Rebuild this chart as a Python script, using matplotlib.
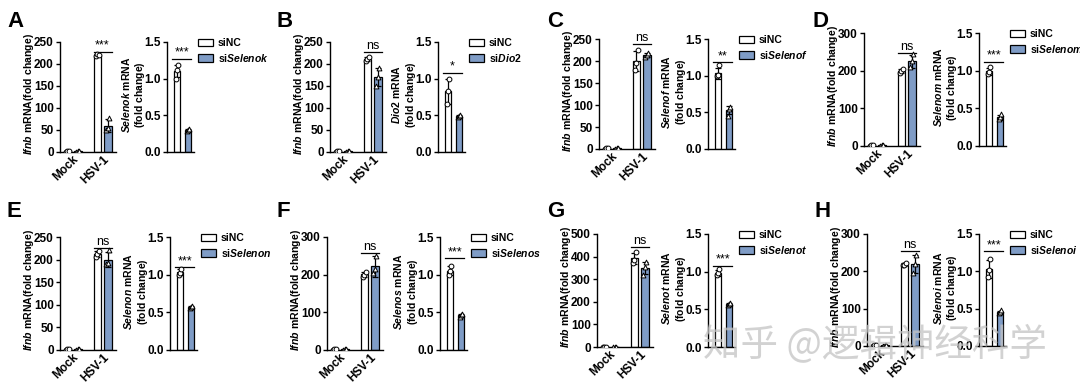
import numpy as np
import matplotlib
matplotlib.use("Agg")
import matplotlib.pyplot as plt
from matplotlib.patches import Patch

plt.rcParams['font.family'] = ['Liberation Sans', 'DejaVu Sans']
plt.rcParams['font.weight'] = 'bold'
plt.rcParams['mathtext.fontset'] = 'custom'
plt.rcParams['mathtext.it'] = 'Liberation Sans:italic:bold'
plt.rcParams['mathtext.rm'] = 'Liberation Sans:bold'
plt.rcParams['mathtext.bf'] = 'Liberation Sans:bold'
plt.rcParams['axes.linewidth'] = 1.0

# ---- data ----
panel_labels = ['A', 'B', 'C', 'D', 'E', 'F', 'G', 'H']
genes = ['Selenok', 'Dio2', 'Selenof', 'Selenom', 'Selenon', 'Selenos', 'Selenot', 'Selenoi']
groups = ['Mock', 'HSV-1']

ifnb_ymax = [250, 250, 250, 300, 250, 300, 500, 300]
ifnb_step = [50, 50, 50, 100, 50, 100, 100, 100]

# Ifnb, Mock (siNC / siKD)
mock_nc_mean = [1.5, 1.5, 1.5, 1.5, 1.5, 1.5, 1.5, 1.5]
mock_kd_mean = [1.5, 1.5, 1.5, 1.5, 1.5, 1.5, 1.5, 1.5]
mock_nc_pts = [[1, 1.5, 2]] * 8
mock_kd_pts = [[1, 1.5, 2]] * 8

# Ifnb, HSV-1
hsv_nc_mean = [220, 211, 200, 200, 212, 201, 392, 218]
hsv_nc_sd = [2, 4, 22, 5, 6, 6, 25, 3]
hsv_nc_pts = [[218, 222, 221], [207, 212, 215], [180, 195, 225], [195, 200, 205],
              [205, 212, 218], [195, 200, 208], [370, 385, 420], [216, 218, 222]]
hsv_kd_mean = [60, 170, 213, 225, 200, 222, 350, 220]
hsv_kd_sd = [14, 20, 5, 17, 17, 28, 28, 25]
hsv_kd_pts = [[50, 55, 78], [150, 170, 192], [208, 213, 218], [210, 225, 245],
              [190, 192, 222], [205, 215, 250], [320, 355, 375], [195, 220, 245]]
ifnb_sig = ['***', 'ns', 'ns', 'ns', 'ns', 'ns', 'ns', 'ns']
ifnb_sig_y = [228, 227, 238, 247, 225, 257, 442, 254]

# knockdown efficiency
kd_nc_mean = [1.1, 0.83, 1.03, 0.99, 1.03, 1.05, 0.98, 1.03]
kd_nc_sd = [0.08, 0.17, 0.08, 0.05, 0.04, 0.06, 0.04, 0.12]
kd_nc_pts = [[1.0, 1.12, 1.18], [0.65, 0.83, 1.0], [1.0, 1.01, 1.14], [0.95, 0.98, 1.05],
             [1.0, 1.02, 1.08], [1.0, 1.05, 1.12], [0.95, 0.98, 1.04], [0.93, 1.02, 1.16]]
kd_kd_mean = [0.3, 0.49, 0.53, 0.38, 0.57, 0.46, 0.57, 0.45]
kd_kd_sd = [0.01, 0.01, 0.05, 0.03, 0.015, 0.02, 0.01, 0.02]
kd_kd_pts = [[0.29, 0.3, 0.31], [0.48, 0.49, 0.5], [0.45, 0.55, 0.57], [0.36, 0.38, 0.42],
             [0.56, 0.57, 0.59], [0.44, 0.47, 0.48], [0.56, 0.57, 0.58], [0.44, 0.46, 0.48]]
kd_sig = ['***', '*', '**', '***', '***', '***', '***', '***']
kd_sig_y = [1.27, 1.08, 1.18, 1.12, 1.1, 1.22, 1.08, 1.27]

# ---- layout (pixels) ----
W, H = 1080, 387
left_x = [60, 330, 599, 864, 60, 327, 597, 867]
right_x = [167, 438, 708, 979, 170, 440, 708, 979]
top_y = [42, 42, 39, 33, 237, 237, 234, 234]
bot_y = [152, 152, 149, 146, 350, 350, 347, 346]
label_xy = [(7, 27), (277, 27), (547, 27), (813, 27), (7, 217), (277, 217), (547, 217), (815, 217)]

NC_COLOR = 'white'
KD_COLOR = '#7f9cc6'
jit = np.array([-1, 0, 1])


def bar_with_points(ax, x, mean, sd, pts, color, marker, width, jw):
    ax.bar(x, mean, width=width, color=color, edgecolor='black', linewidth=0.9, zorder=2)
    ax.errorbar(x, mean, yerr=sd, fmt='none', ecolor='black', elinewidth=0.9,
                capsize=2, capthick=0.9, zorder=3)
    ax.scatter(x + jit * jw, pts, s=12, facecolor='white', edgecolor='black',
               linewidth=0.7, marker=marker, zorder=4)


def style(ax):
    for s in ['top', 'right']:
        ax.spines[s].set_visible(False)
    ax.tick_params(axis='y', labelsize=8.5, length=3, width=1, pad=1.5)
    ax.tick_params(axis='x', labelsize=8.5, length=0, width=1, pad=1)


fig = plt.figure(figsize=(W / 100, H / 100), dpi=100)

for i in range(8):
    h = bot_y[i] - top_y[i]
    w1 = 56
    ax1 = fig.add_axes([left_x[i] / W, 1 - bot_y[i] / H, w1 / W, h / H])
    bw = 0.26
    bar_with_points(ax1, 0 - 0.17, mock_nc_mean[i], 0.4, mock_nc_pts[i], NC_COLOR, 'o', bw, 0.05)
    bar_with_points(ax1, 0 + 0.17, mock_kd_mean[i], 0.4, mock_kd_pts[i], KD_COLOR, '^', bw, 0.05)
    bar_with_points(ax1, 1 - 0.17, hsv_nc_mean[i], hsv_nc_sd[i], hsv_nc_pts[i], NC_COLOR, 'o', bw, 0.05)
    bar_with_points(ax1, 1 + 0.17, hsv_kd_mean[i], hsv_kd_sd[i], hsv_kd_pts[i], KD_COLOR, '^', bw, 0.05)
    ax1.set_xlim(-0.42, 1.45)
    ax1.set_ylim(0, ifnb_ymax[i])
    ax1.set_yticks(np.arange(0, ifnb_ymax[i] + 1, ifnb_step[i]))
    ax1.set_xticks([0, 1])
    ax1.set_xticklabels(groups, rotation=45, ha='right', rotation_mode='anchor')
    ax1.set_ylabel(r'$\it{Ifnb}\bf{\ mRNA(fold\ change)}$', fontsize=7.6)
    ax1.yaxis.set_label_coords(-24 / w1, 0.5 + 3 / h)
    ax1.plot([0.7, 1.3], [ifnb_sig_y[i]] * 2, color='black', lw=0.9, clip_on=False)
    ax1.text(1.0, ifnb_sig_y[i], ifnb_sig[i], ha='center', va='bottom', fontsize=9,
             fontweight='normal')
    style(ax1)

    w2 = 27
    ax2 = fig.add_axes([right_x[i] / W, 1 - bot_y[i] / H, w2 / W, h / H])
    bar_with_points(ax2, 0, kd_nc_mean[i], kd_nc_sd[i], kd_nc_pts[i], NC_COLOR, 'o', 0.6, 0.12)
    bar_with_points(ax2, 1, kd_kd_mean[i], kd_kd_sd[i], kd_kd_pts[i], KD_COLOR, '^', 0.6, 0.12)
    ax2.set_xlim(-0.9, 1.55)
    ax2.set_ylim(0, 1.5)
    ax2.set_yticks([0, 0.5, 1.0, 1.5])
    ax2.set_yticklabels(['0.0', '0.5', '1.0', '1.5'])
    ax2.set_xticks([])
    ax2.set_ylabel('$\\it{' + genes[i] + '}\\bf{\\ mRNA}$\n$\\bf{(fold\\ change)}$',
                   fontsize=7.5, linespacing=1.15)
    ax2.yaxis.set_label_coords(-20 / w2, 0.5 + 2 / h)
    ax2.plot([-0.45, 1.3], [kd_sig_y[i]] * 2, color='black', lw=0.9, clip_on=False)
    ax2.text(0.42, kd_sig_y[i], kd_sig[i], ha='center', va='bottom', fontsize=9,
             fontweight='normal')
    style(ax2)

    handles = [Patch(facecolor=NC_COLOR, edgecolor='black', linewidth=0.9),
               Patch(facecolor=KD_COLOR, edgecolor='black', linewidth=0.9)]
    fig.legend(handles, ['siNC', '$\\bf{si}\\it{' + genes[i] + '}$'],
               loc='upper left',
               bbox_to_anchor=((right_x[i] + 29) / W, 1 - (top_y[i] - 6) / H),
               frameon=False, fontsize=7.5, handlelength=1.4, handleheight=0.75,
               handletextpad=0.5, labelspacing=0.35, borderaxespad=0, borderpad=0.2)

    fig.text(label_xy[i][0] / W, 1 - label_xy[i][1] / H, panel_labels[i],
             fontsize=16, fontweight='bold', va='baseline')

fig.text(703 / W, 1 - 345 / H, '知乎 @逻辑神经科学', fontsize=27, color='#c4c4c4',
         alpha=0.75, va='center', ha='left',
         family=['Noto Sans CJK SC', 'DejaVu Sans'], fontweight='normal')

fig.savefig('out.png', dpi=100)
